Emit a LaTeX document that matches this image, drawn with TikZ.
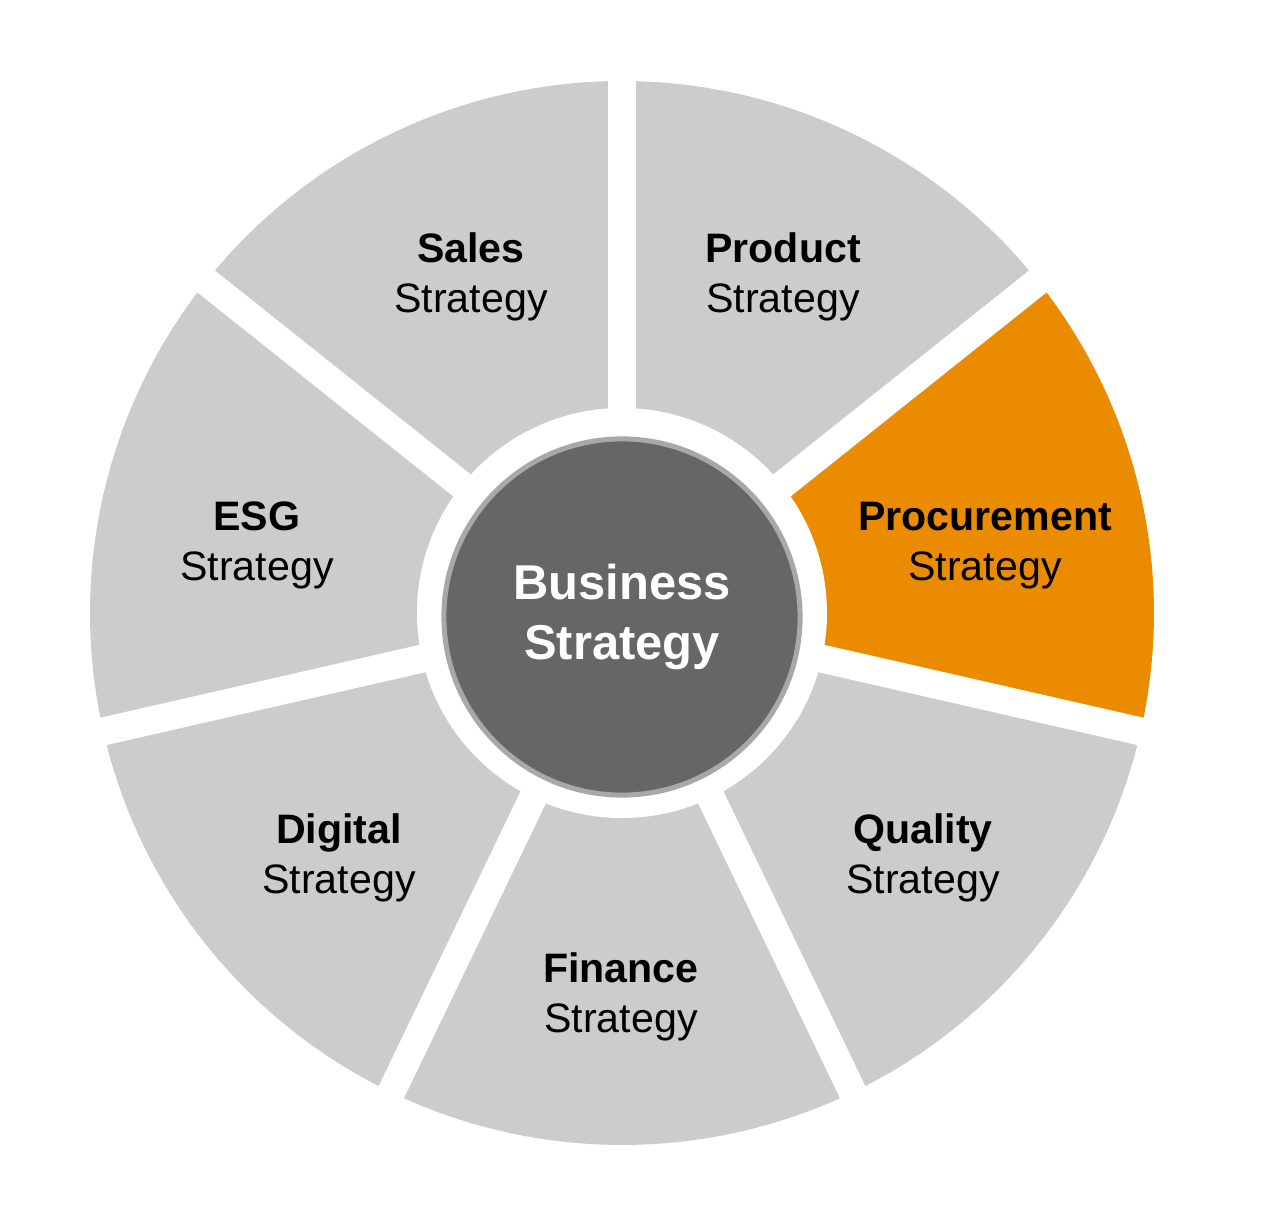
\documentclass[tikz,border=0pt]{standalone}
\usepackage{fontspec}
\setmainfont{Liberation Sans}

\definecolor{segGray}{HTML}{CCCCCC}
\definecolor{procOrange}{HTML}{EA8B00}
\definecolor{hubGray}{HTML}{666666}
\definecolor{rimGray}{HTML}{A8A8A8}

\tikzstyle{seglabel} = [align=center, font=\fontsize{11.7}{14.2}\selectfont, inner sep=0pt]
\tikzstyle{gap} = [white, line width=0.28cm]
\tikzstyle{hub} = [circle, fill=hubGray, draw=rimGray, line width=0.05cm, minimum size=3.56cm, align=center, text=white, font=\fontsize{13.9}{16.8}\selectfont\bfseries]

\begin{document}
\begin{tikzpicture}[x=0.01cm,y=0.01cm]
      \useasboundingbox (-622,-592) rectangle (656,613);
      % segments
      \foreach \a/\c in {-12.86/procOrange, 38.57/segGray, 90/segGray, 141.43/segGray, 192.86/segGray, 244.29/segGray, 295.71/segGray}
        \fill[\c] (0,0) -- (\a:532) arc[start angle=\a, end angle=\a+51.43, radius=532] -- cycle;
      \foreach \a in {-12.86, 38.57, 90, 141.43, 192.86, 244.29, 295.71}
        \draw[gap] (0,0) -- (\a:560);
      \fill[white] (0,0) circle[radius=205];
      \node[hub] (hub) at (0,-4) {Business\\Strategy};
      \node[seglabel] (sales) at (-151,336) {\textbf{Sales}\\Strategy};
      \node[seglabel] (product) at (161,336) {\textbf{Product}\\Strategy};
      \node[seglabel] (procurement) at (363,67) {\textbf{Procurement}\\Strategy};
      \node[seglabel] (quality) at (301,-245) {\textbf{Quality}\\Strategy};
      \node[seglabel] (finance) at (-1,-384) {\textbf{Finance}\\Strategy};
      \node[seglabel] (digital) at (-283,-245) {\textbf{Digital}\\Strategy};
      \node[seglabel] (esg) at (-365,68) {\textbf{ESG}\\Strategy};
    \end{tikzpicture}
\end{document}
